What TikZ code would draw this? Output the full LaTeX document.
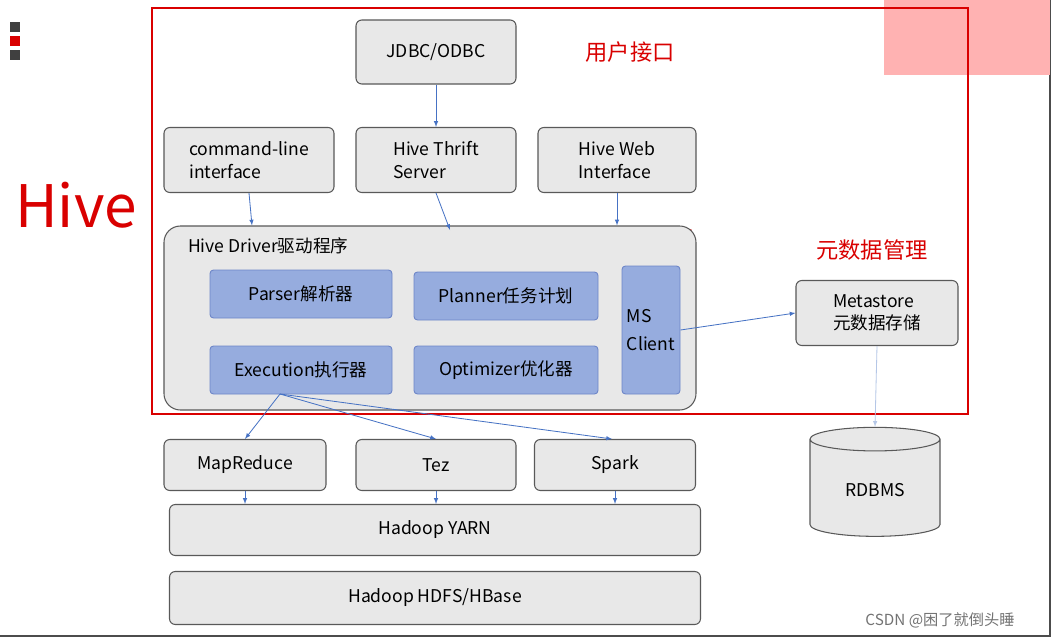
\documentclass[tikz,border=0pt]{standalone}
\usepackage{fontspec}
\setmainfont{Noto Sans CJK SC}
\usetikzlibrary{shapes.geometric}
\definecolor{bfill}{RGB}{150,172,222}
\definecolor{bdraw}{RGB}{110,135,200}
\definecolor{arrc}{RGB}{70,114,196}
\begin{document}
\begin{tikzpicture}[x=0.03cm,y=-0.03cm,
 gbox/.style={draw=black!65,fill=black!9,rounded corners=5pt,line width=0.9pt,align=left,font=\fontsize{15pt}{19pt}\selectfont},
 bbox/.style={draw=bdraw,fill=bfill,rounded corners=3pt,line width=0.8pt,font=\fontsize{15pt}{19pt}\selectfont},
 red/.style={text=red!85!black,font=\fontsize{19pt}{23pt}\selectfont},
 arr/.style={draw=arrc,-latex,line width=0.7pt}]
\useasboundingbox (0,0) rectangle (1057,640);
\fill[white] (0,0) rectangle (1057,640);
\draw[black!70,line width=1.2pt] (0,636) -- (1050,636) -- (1050,0);
\fill[black!75] (10,22) rectangle (20,32);
\fill[red!85!black] (10,36) rectangle (20,46);
\fill[black!75] (10,50) rectangle (20,60);
\fill[red!30] (884,0) rectangle (1050,75);
\draw[red!85!black,line width=1pt] (152,8) rectangle (968,414);
\node[text=red!85!black,font=\fontsize{50pt}{55pt}\selectfont] (hive) at (76,205) {Hive};
\node[red] (l1) at (630,52) {用户接口};
\node[red] (l2) at (640,240) {SQL解析器};
\node[red] (l3) at (872,250) {元数据管理};
\node[gbox,minimum width=160*0.03cm,minimum height=64*0.03cm,align=center] (jdbc) at (436,52) {JDBC/ODBC};
\node[gbox,minimum width=170*0.03cm,minimum height=65*0.03cm] (cli) at (249,160) {command-line\\interface};
\node[gbox,minimum width=160*0.03cm,minimum height=65*0.03cm] (thrift) at (436,160) {Hive Thrift\\Server};
\node[gbox,minimum width=158*0.03cm,minimum height=65*0.03cm] (web) at (617,160) {Hive Web\\Interface};
\node[gbox,rounded corners=14pt,minimum width=532*0.03cm,minimum height=184*0.03cm] (drv) at (430,318) {};
\node[anchor=west,font=\fontsize{15pt}{19pt}\selectfont] (drvl) at (184,246) {Hive Driver驱动程序};
\node[bbox,minimum width=182*0.03cm,minimum height=48*0.03cm] (parser) at (301,294) {Parser解析器};
\node[bbox,minimum width=184*0.03cm,minimum height=48*0.03cm] (planner) at (506,296) {Planner任务计划};
\node[bbox,minimum width=182*0.03cm,minimum height=48*0.03cm] (exec) at (301,370) {Execution执行器};
\node[bbox,minimum width=184*0.03cm,minimum height=48*0.03cm] (opt) at (506,370) {Optimizer优化器};
\node[bbox,minimum width=58*0.03cm,minimum height=128*0.03cm,align=left,font=\fontsize{15pt}{24pt}\selectfont] (ms) at (651,330) {MS\\Client};
\node[gbox,minimum width=162*0.03cm,minimum height=65*0.03cm] (meta) at (877,313) {Metastore\\元数据存储};
\node[gbox,minimum width=162*0.03cm,minimum height=51*0.03cm] (mr) at (245,465) {MapReduce};
\node[gbox,minimum width=160*0.03cm,minimum height=51*0.03cm] (tez) at (436,465) {Tez};
\node[gbox,minimum width=161*0.03cm,minimum height=51*0.03cm] (spark) at (615,465) {Spark};
\node[gbox,minimum width=531*0.03cm,minimum height=51*0.03cm] (yarn) at (435,530) {Hadoop YARN};
\node[gbox,minimum width=531*0.03cm,minimum height=53*0.03cm] (hdfs) at (435,598) {Hadoop HDFS/HBase};
\node[cylinder,shape border rotate=90,aspect=0.35,draw=black!65,fill=black!9,line width=0.9pt,minimum width=130*0.03cm,minimum height=109*0.03cm,font=\fontsize{15pt}{19pt}\selectfont] (db) at (875,490) {RDBMS};
\node[text=black!55,font=\fontsize{13pt}{16pt}\selectfont] (wm) at (940,620) {CSDN @困了就倒头睡};
\draw[arr] (jdbc) -- (thrift);
\draw[arr] (cli.south) -- ([xshift=3*0.03cm]cli.south |- drv.north);
\draw[arr] (thrift.south) -- (450,230);
\draw[arr] (web.south) -- (web.south |- drv.north);
\draw[arr] (ms.east) -- (meta.west);
\draw[arr,draw=arrc!40] (meta.south) -- (db.north);
\coordinate (ex) at (280,394);
\draw[arr] (ex) -- (mr.north);
\draw[arr] (ex) -- (tez.north);
\draw[arr] (ex) -- ([xshift=-3*0.03cm]spark.north);
\draw[arr] (mr.south) -- (mr.south |- yarn.north);
\draw[arr] (tez.south) -- (tez.south |- yarn.north);
\draw[arr] (spark.south) -- (spark.south |- yarn.north);
\end{tikzpicture}
\end{document}
